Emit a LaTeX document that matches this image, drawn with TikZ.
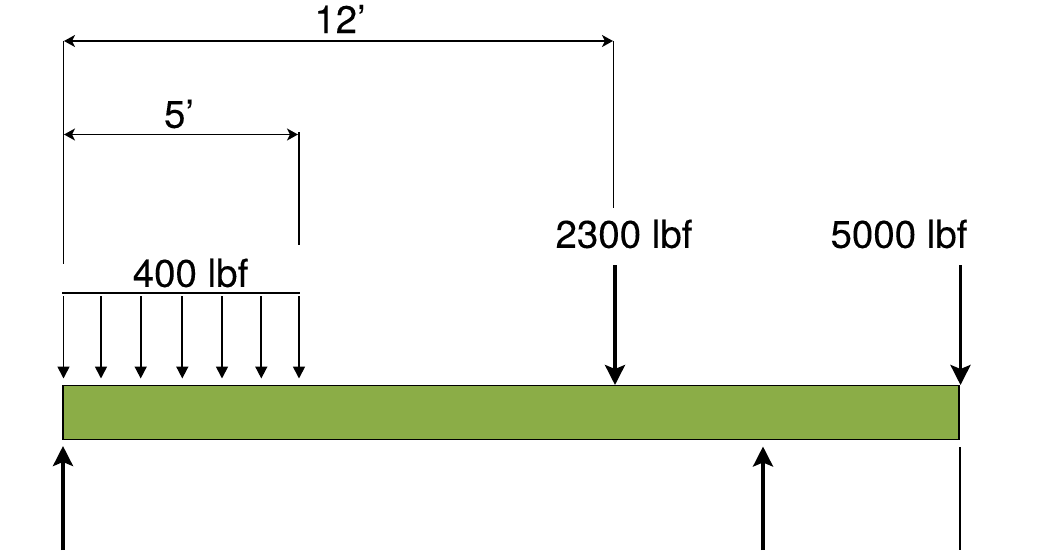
\documentclass[tikz,border=0pt]{standalone}
\usepackage{fontspec}
\setmainfont{TeX Gyre Heros}[FakeBold=0.15]
\usetikzlibrary{arrows.meta}
\definecolor{beamgreen}{HTML}{8BAD47}
\tikzset{
  beam/.style={draw=black,fill=beamgreen,line width=1.8pt,minimum width=896pt,minimum height=54pt,inner sep=0pt,outer sep=0pt},
  lbl/.style={font=\fontsize{38.5}{42}\selectfont,inner sep=0pt,text=black},
  thinline/.style={line width=1.7pt,draw=black},
  dist/.style={line width=1.7pt,-{Triangle[length=12pt,width=12pt]}},
  dimarrow/.style={line width=1.7pt,{Stealth[length=11pt,width=12pt,inset=3pt]}-{Stealth[length=11pt,width=12pt,inset=3pt]}},
  force/.style={line width=3.6pt,-{Stealth[length=20pt,width=20pt,inset=4pt]}},
}
\begin{document}
\begin{tikzpicture}[x=1pt,y=-1pt]
\useasboundingbox (0,0) rectangle (1048,550);
\node[beam,anchor=north west] (B) at (63,385.5) {};
% text
\node[lbl] (t12) at (340,19) {12’};
\node[lbl] (t5) at (179,114) {5’};
\node[lbl] (t400) at (190.5,273) {400 lbf};
\node[lbl] (t2300) at (624,234) {2300 lbf};
\node[lbl] (t5000) at (899,234) {5000 lbf};
% dimension lines
\coordinate (v0a) at (63.5,40.5); \coordinate (v0b) at (63.5,264);
\coordinate (v5a) at (299,132); \coordinate (v5b) at (299,245);
\coordinate (v12a) at (613.5,40.5); \coordinate (v12b) at (613.5,208);
\draw[thinline] (v0a) -- (v0b);
\draw[thinline] (v5a) -- (v5b);
\draw[thinline] (v12a) -- (v12b);
\coordinate (d12a) at (64,41); \coordinate (d12b) at (613,41);
\coordinate (d5a) at (64,134.5); \coordinate (d5b) at (298,134.5);
\draw[dimarrow] (d12a) -- (d12b);
\draw[dimarrow] (d5a) -- (d5b);
% distributed load
\coordinate (bar1) at (62,293); \coordinate (bar2) at (300,293);
\draw[line width=1.8pt] (bar1) -- (bar2);
\foreach \n/\x in {a/63.5,b/101,c/140.7,d/182.3,e/222,f/261.3,g/299}{
  \coordinate (s\n) at (\x,296); \coordinate (e\n) at (\x,378.5);
  \draw[dist] (s\n) -- (e\n);
}
% forces
\coordinate (f1a) at (615,265); \coordinate (f1b) at (615,385);
\coordinate (f2a) at (960.5,265); \coordinate (f2b) at (960.5,385);
\coordinate (r1a) at (63,550); \coordinate (r1b) at (63,446);
\coordinate (r2a) at (763,550); \coordinate (r2b) at (763,446.5);
\draw[force] (f1a) -- (f1b);
\draw[force] (f2a) -- (f2b);
\draw[force] (r1a) -- (r1b);
\draw[force] (r2a) -- (r2b);
\coordinate (w1) at (960,447); \coordinate (w2) at (960,550);
\draw[thinline] (w1) -- (w2);
\end{tikzpicture}
\end{document}
